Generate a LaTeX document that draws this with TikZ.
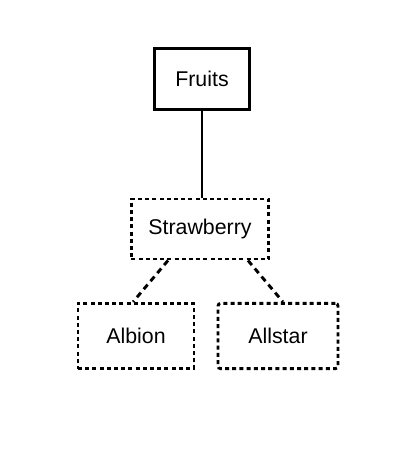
\documentclass[tikz,border=0pt]{standalone}
\usepackage{fontspec}
\setmainfont{Liberation Sans}
\usepackage{tikz}
\usetikzlibrary{arrows.meta, positioning}
\tikzset{
  box/.style={rectangle, line width=2.2pt, align=center, inner sep=4pt,
              font=\fontsize{16}{19}\selectfont},
  solidb/.style={box, draw=black, fill=white},
  dashb/.style={box, draw=black, fill=white, dash pattern=on 3pt off 2.4pt},
  link/.style={line width=2.2pt, draw=black},
  dashlink/.style={link, dash pattern=on 4.5pt off 3.4pt},
}
\begin{document}
\begin{tikzpicture}[x=0.75pt, y=-0.75pt]
  \useasboundingbox (0,0) rectangle (418,454);
  \node[solidb, minimum width=71pt, minimum height=46pt] (fruits) at (202,79) {Fruits};
  \node[dashb, minimum width=103pt, minimum height=45pt] (straw) at (200,229) {Strawberry};
  \node[dashb, minimum width=87pt, minimum height=49pt] (albion) at (136,336) {Albion};
  \node[dashb, rounded corners=2pt, minimum width=90pt, minimum height=49pt] (allstar) at (278,336) {Allstar};
  \draw[link] (fruits) -- (fruits |- straw.north);
  \draw[dashlink] ([xshift=-24pt]straw.south) -- ([xshift=-2.2pt]albion.north);
  \draw[dashlink] ([xshift=36pt]straw.south) -- ([xshift=3.7pt]allstar.north);
\end{tikzpicture}
\end{document}
